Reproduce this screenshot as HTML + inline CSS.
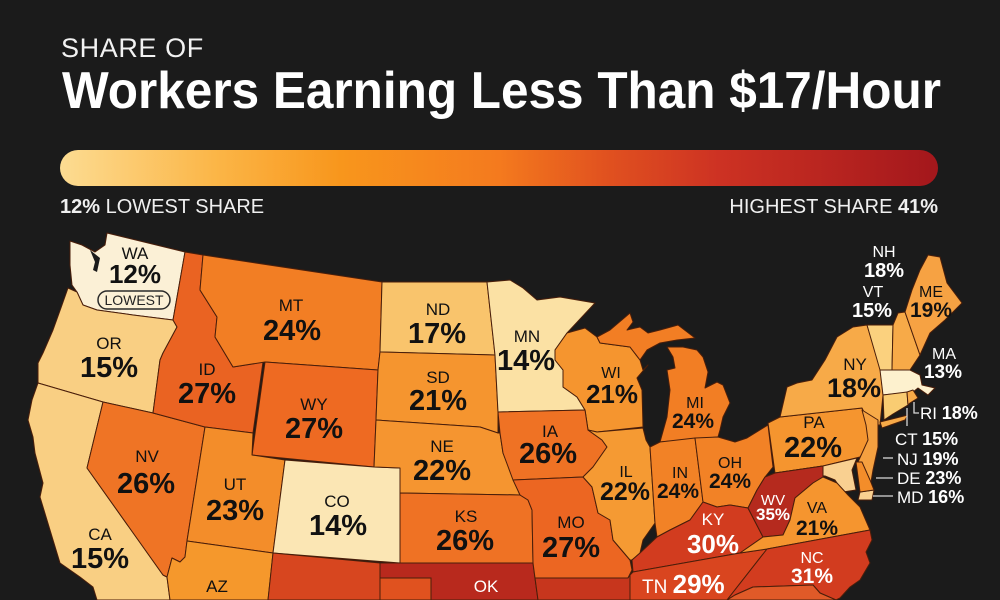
<!DOCTYPE html>
<html><head><meta charset="utf-8"><style>
html,body{margin:0;padding:0;background:#1b1b1b;}
svg{display:block;}
text{font-family:"Liberation Sans",sans-serif;}
</style></head><body>
<svg width="1000" height="600" viewBox="0 0 1000 600" xmlns="http://www.w3.org/2000/svg">
<defs>
<linearGradient id="g" x1="0" x2="1" y1="0" y2="0">
<stop offset="0" stop-color="#fcdc92"/>
<stop offset="0.18" stop-color="#fbb546"/>
<stop offset="0.32" stop-color="#f8961c"/>
<stop offset="0.5" stop-color="#f47a1e"/>
<stop offset="0.62" stop-color="#e1521f"/>
<stop offset="0.75" stop-color="#cd3223"/>
<stop offset="1" stop-color="#a3171c"/>
</linearGradient>
</defs>
<rect width="1000" height="600" fill="#1b1b1b"/>

<text x="61" y="57" font-size="27" fill="#f2f2f2" letter-spacing="0.6">SHARE OF</text>
<text x="62" y="108" font-size="52" font-weight="bold" fill="#ffffff" textLength="879" lengthAdjust="spacingAndGlyphs">Workers Earning Less Than $17/Hour</text>
<rect x="60" y="150" width="878" height="36" rx="18" fill="url(#g)"/>
<text x="60" y="213" font-size="20" fill="#f0f0f0"><tspan font-weight="bold">12%</tspan> LOWEST SHARE</text>
<text x="938" y="213" font-size="20" fill="#f0f0f0" text-anchor="end">HIGHEST SHARE <tspan font-weight="bold">41%</tspan></text>

<g stroke="#4a1e0a" stroke-width="1" stroke-linejoin="round">
<!-- WA -->
<polygon fill="#fbf0d6" points="70,241 82,245 95,252 105,245 107,233 185,252 173,320 133,315 97,310 83,305 77,292 72,285 70,265"/>
<polygon fill="#1b1b1b" stroke="none" points="90,250 100,258 97,272 93,270 95,262"/>
<!-- OR -->
<polygon fill="#f9cf83" points="68,288 77,292 83,305 97,310 133,315 173,320 177,327 163,353 160,360 153,413 103,402 38,383 38,363 43,353 53,330 62,305"/>
<!-- CA -->
<polygon fill="#f9cf83" points="38,383 103,402 87,468 163,575 167,577 170,600 97,600 93,587 80,577 60,563 50,530 40,497 43,483 35,453 33,437 28,420 32,400"/>
<!-- NV -->
<polygon fill="#ef7425" points="103,402 153,413 205,427 187,541 185,557 180,562 172,558 167,577 163,575 87,468"/>
<!-- ID -->
<polygon fill="#ea6322" points="185,252 203,255 200,290 217,317 215,337 233,367 263,362 253,433 205,427 153,413 160,360 163,353 177,327 173,320"/>
<!-- MT -->
<polygon fill="#f27e24" points="203,255 382,282 380,352 378,370 265,362 233,367 215,337 217,317 200,290"/>
<!-- WY -->
<polygon fill="#ee6a22" points="265,362 378,370 376,420 374,467 252,455"/>
<!-- UT -->
<polygon fill="#f38d2a" points="205,427 253,433 252,455 285,460 273,553 187,541"/>
<!-- CO -->
<polygon fill="#fbe6b4" points="285,460 374,467 400,468 400,563 273,553"/>
<!-- AZ -->
<polygon fill="#f5982c" points="187,541 273,553 268,600 170,600 167,577 172,558 180,562 185,557"/>
<!-- NM -->
<polygon fill="#d7461f" points="273,553 380,563 380,600 268,600"/>
<!-- ND -->
<polygon fill="#f9c46c" points="382,282 487,282 495,355 380,352"/>
<!-- SD -->
<polygon fill="#f5952f" points="380,352 495,355 498,412 498,433 480,427 376,420 378,370"/>
<!-- NE -->
<polygon fill="#f59530" points="376,420 480,427 498,433 500,433 503,453 513,478 520,495 400,493 400,468 374,467"/>
<!-- KS -->
<polygon fill="#ef7224" points="400,493 520,495 528,500 532,510 533,563 400,563"/>
<!-- OK -->
<polygon fill="#b8291d" points="380,563 533,563 535,578 538,600 431,600 431,578 380,578"/>
<!-- TX -->
<polygon fill="#e0521f" points="380,578 431,578 431,600 380,600"/>
<!-- MN -->
<polygon fill="#fbe1a4" points="487,282 510,280 523,288 537,300 560,297 595,303 567,333 555,350 555,360 563,370 563,387 577,397 585,410 498,412 495,355"/>
<!-- WI -->
<polygon fill="#f5952f" points="567,333 585,328 597,337 600,343 630,347 640,360 643,370 648,365 637,378 642,390 643,427 597,432 588,430 585,410 577,397 563,387 563,370 555,360 555,350"/>
<!-- MI UP -->
<polygon fill="#f27e24" points="597,337 610,330 630,313 633,322 627,330 640,327 648,333 660,330 678,325 695,338 677,340 660,343 647,350 640,360 630,347 600,343"/>
<!-- MI LP -->
<polygon fill="#f27e24" points="667,347 683,347 697,350 703,357 708,372 705,388 717,382 723,385 730,403 723,417 720,430 718,437 660,442 667,417 670,390 667,370 675,368 673,357"/>
<!-- IA -->
<polygon fill="#ef7224" points="498,412 585,410 588,430 602,440 607,447 593,467 583,477 513,480 503,453 500,433"/>
<!-- MO -->
<polygon fill="#ec6622" points="513,480 583,477 592,487 598,513 610,520 613,540 630,560 632,570 628,578 535,578 533,563 532,510 528,500 520,495"/>
<!-- IL -->
<polygon fill="#f59a33" points="597,432 643,428 646,440 650,447 655,523 643,540 640,553 632,560 630,560 613,540 610,520 598,513 592,487 583,477 593,467 607,447 602,440 588,430"/>
<!-- IN -->
<polygon fill="#f28226" points="650,447 660,442 695,438 703,502 690,520 670,530 657,537 655,523"/>
<!-- OH -->
<polygon fill="#f28226" points="695,438 718,437 735,442 747,438 768,425 773,467 765,477 757,490 748,508 730,505 717,507 703,502"/>
<!-- KY -->
<polygon fill="#d23c1f" points="632,560 640,553 657,537 670,530 690,520 703,502 717,507 730,505 748,508 763,537 740,553 633,572"/>
<!-- TN -->
<polygon fill="#d9451f" points="630,575 633,572 740,553 767,549 727,600 630,600"/>
<!-- AR -->
<polygon fill="#c7361d" points="535,578 628,578 630,575 630,600 538,600"/>
<!-- PA -->
<polygon fill="#f5952f" points="768,423 780,417 862,408 870,425 873,437 860,457 823,466 775,473"/>
<!-- MD -->
<polygon fill="#f9d091" points="775,473 823,466 857,458 852,470 856,490 843,492 835,480 825,476"/>
<polygon fill="#f9d091" points="860,492 874,490 872,500 858,500"/>
<!-- WV -->
<polygon fill="#b52a1e" points="765,477 775,473 823,466 823,477 813,483 795,498 790,520 783,535 763,537 748,508 757,490"/>
<!-- VA -->
<polygon fill="#f5952f" points="823,477 837,483 848,495 860,507 870,530 767,549 740,553 763,537 783,535 790,520 795,498 813,483"/>
<!-- NC -->
<polygon fill="#d23c1f" points="767,549 870,530 872,540 866,552 870,563 860,580 850,587 840,598 836,600 820,593 813,585 753,587 735,595 727,600"/>
<!-- SC -->
<polygon fill="#e05a28" points="727,600 735,595 753,587 813,585 820,593 836,600"/>
<!-- NY -->
<polygon fill="#f7aa48" points="780,417 787,387 797,383 812,380 825,360 837,337 853,327 867,325 880,367 883,395 880,425 870,425 862,408"/>
<polygon fill="#f7aa48" points="880,422 908,415 905,420 882,428"/>
<!-- NJ -->
<polygon fill="#f5a040" points="862,410 878,420 878,447 873,470 870,488 860,480 858,462 868,440 866,425"/>
<!-- DE -->
<polygon fill="#f38d2a" points="856,462 862,462 870,480 874,490 860,492"/>
<!-- VT -->
<polygon fill="#fbd17e" points="867,325 893,325 892,370 880,370"/>
<!-- NH -->
<polygon fill="#f7aa48" points="893,325 898,313 905,312 920,355 910,370 892,370"/>
<!-- ME -->
<polygon fill="#f6a243" points="905,312 912,290 920,270 928,255 940,257 947,283 962,303 945,320 930,333 920,355"/>
<!-- MA -->
<polygon fill="#fdf1ce" points="880,370 910,370 920,375 922,385 935,388 928,395 918,388 913,392 883,395"/>
<!-- CT -->
<polygon fill="#f9cc72" points="883,395 907,392 908,405 893,414 884,420"/>
<!-- RI -->
<polygon fill="#f7aa48" points="907,392 913,390 918,398 910,403 908,405"/>
</g>

<!-- leader lines -->
<g stroke="#d8d8d8" stroke-width="1.3" fill="none">
<polyline points="914,402 914,413 919,413"/>
<line x1="907" y1="408" x2="907" y2="426"/>
<line x1="883" y1="458" x2="893" y2="458"/>
<line x1="876" y1="478" x2="893" y2="478"/>
<line x1="873" y1="496" x2="893" y2="496"/>
</g>

<!-- LOWEST pill -->
<rect x="98" y="291" width="72" height="18" rx="9" fill="none" stroke="#2a2a2a" stroke-width="1.5"/>
<text x="134" y="305" font-size="14" fill="#222" text-anchor="middle">LOWEST</text>

<g fill="#111" text-anchor="middle">
<text x="135" y="259" font-size="17">WA</text><text x="135" y="283" font-size="26" font-weight="bold">12%</text>
<text x="109" y="349" font-size="17">OR</text><text x="109" y="377" font-size="29" font-weight="bold">15%</text>
<text x="207" y="375" font-size="17">ID</text><text x="207" y="403" font-size="29" font-weight="bold">27%</text>
<text x="291" y="311" font-size="17">MT</text><text x="292" y="340" font-size="29" font-weight="bold">24%</text>
<text x="314" y="410" font-size="17">WY</text><text x="314" y="438" font-size="29" font-weight="bold">27%</text>
<text x="147" y="462" font-size="17">NV</text><text x="146" y="493" font-size="29" font-weight="bold">26%</text>
<text x="235" y="490" font-size="17">UT</text><text x="235" y="520" font-size="29" font-weight="bold">23%</text>
<text x="337" y="507" font-size="17">CO</text><text x="338" y="535" font-size="29" font-weight="bold">14%</text>
<text x="100" y="540" font-size="17">CA</text><text x="100" y="568" font-size="29" font-weight="bold">15%</text>
<text x="217" y="592" font-size="17">AZ</text>
<text x="438" y="315" font-size="17">ND</text><text x="437" y="343" font-size="29" font-weight="bold">17%</text>
<text x="438" y="383" font-size="17">SD</text><text x="438" y="410" font-size="29" font-weight="bold">21%</text>
<text x="442" y="452" font-size="17">NE</text><text x="442" y="480" font-size="29" font-weight="bold">22%</text>
<text x="466" y="522" font-size="17">KS</text><text x="465" y="550" font-size="29" font-weight="bold">26%</text>
<text x="527" y="342" font-size="17">MN</text><text x="526" y="370" font-size="29" font-weight="bold">14%</text>
<text x="611" y="378" font-size="16">WI</text><text x="612" y="403" font-size="26" font-weight="bold">21%</text>
<text x="550" y="437" font-size="17">IA</text><text x="548" y="463" font-size="29" font-weight="bold">26%</text>
<text x="571" y="528" font-size="17">MO</text><text x="571" y="557" font-size="29" font-weight="bold">27%</text>
<text x="626" y="477" font-size="16">IL</text><text x="625" y="500" font-size="25" font-weight="bold">22%</text>
<text x="680" y="478" font-size="16">IN</text><text x="678" y="498" font-size="21" font-weight="bold">24%</text>
<text x="695" y="408" font-size="16">MI</text><text x="693" y="428" font-size="21" font-weight="bold">24%</text>
<text x="730" y="468" font-size="16">OH</text><text x="730" y="488" font-size="21" font-weight="bold">24%</text>
<text x="817" y="513" font-size="16">VA</text><text x="817" y="535" font-size="21" font-weight="bold">21%</text>
<text x="814" y="428" font-size="17">PA</text><text x="813" y="457" font-size="29" font-weight="bold">22%</text>
<text x="855" y="370" font-size="17">NY</text><text x="854" y="397" font-size="27" font-weight="bold">18%</text>
<text x="931" y="297" font-size="16">ME</text><text x="931" y="317" font-size="21" font-weight="bold">19%</text>
</g>

<g fill="#ffffff" text-anchor="middle">
<text x="486" y="592" font-size="17">OK</text>
<text x="713" y="525" font-size="17">KY</text><text x="713" y="553" font-size="26" font-weight="bold">30%</text>
<text x="773" y="505" font-size="15">WV</text><text x="773" y="520" font-size="17" font-weight="bold">35%</text>
<text x="812" y="563" font-size="16">NC</text><text x="812" y="583" font-size="21" font-weight="bold">31%</text>
<text x="884" y="257" font-size="16">NH</text><text x="884" y="277" font-size="20" font-weight="bold">18%</text>
<text x="873" y="297" font-size="16">VT</text><text x="872" y="317" font-size="20" font-weight="bold">15%</text>
<text x="944" y="359" font-size="16">MA</text><text x="943" y="378" font-size="19" font-weight="bold">13%</text>
</g>
<g fill="#ffffff">
<text x="642" y="593" font-size="19">TN <tspan font-size="26" font-weight="bold">29%</tspan></text>
<text x="920" y="419" font-size="17">RI <tspan font-weight="bold" font-size="18">18%</tspan></text>
<text x="895" y="445" font-size="17">CT <tspan font-weight="bold" font-size="18">15%</tspan></text>
<text x="897" y="465" font-size="17">NJ <tspan font-weight="bold" font-size="18">19%</tspan></text>
<text x="897" y="484" font-size="17">DE <tspan font-weight="bold" font-size="18">23%</tspan></text>
<text x="897" y="503" font-size="17">MD <tspan font-weight="bold" font-size="18">16%</tspan></text>
</g>
</svg>
</body></html>
